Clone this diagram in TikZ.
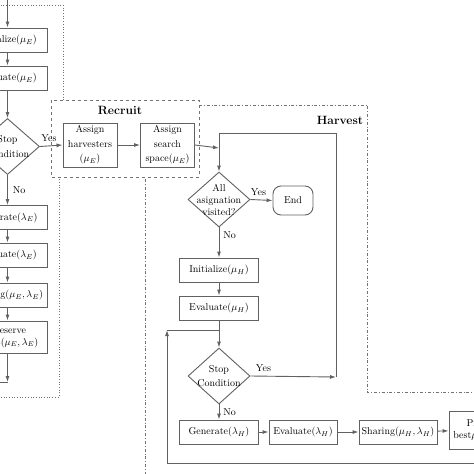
\documentclass[tikz,border=0pt]{standalone}
\usetikzlibrary{shapes.geometric,arrows.meta}
\begin{document}
\begin{tikzpicture}[x=1pt,y=-1pt,
  ln/.style={draw=black!62, line width=0.9pt},
  arr/.style={ln, -{Latex[length=6pt,width=4pt]}},
  box/.style={draw=black!62, line width=0.9pt, fill=white, rectangle, inner sep=1pt,
    minimum height=24pt, align=center, font=\fontsize{10}{12}\selectfont},
  rbox/.style={box, minimum width=54pt, minimum height=44pt, font=\fontsize{10}{14.5}\selectfont},
  dia/.style={draw=black!62, line width=0.9pt, fill=white, diamond, inner sep=0pt},
  lab/.style={font=\fontsize{10}{12}\selectfont, inner sep=0pt},
  stage/.style={font=\fontsize{12}{14}\selectfont\bfseries, inner sep=0pt},
  frame/.style={draw=black!55, line width=0.7pt}
]
\useasboundingbox (0,0) rectangle (474,474);
\clip (0,0) rectangle (474,474);

% stage outlines
\draw[frame, dotted] (-10,5) -- (63,5) -- (63,138) -- (59,138) -- (59,397) -- (-10,397);
\draw[frame, dash dot] (145,490) -- (145,105) -- (367,105) -- (367,392) -- (490,392);
\draw[frame, line width=0.8pt, dashed, fill=white] (51,100) rectangle (199,177);

\node[stage] (rec) at (120,110) {Recruit};
\node[stage] (har) at (340,120) {Harvest};

% Explore column
\node[box, minimum width=80pt] (initE) at (7.5,40) {Initialize($\mu_E$)};
\node[box, minimum width=80pt] (evalE) at (7.5,78) {Evaluate($\mu_E$)};
\node[dia, minimum width=64pt, minimum height=56pt,
  label={[lab, align=center, font=\fontsize{10}{14.5}\selectfont]center:Stop\\Condition}] (stopE) at (7.5,146.5) {};
\node[box, minimum width=80pt] (genE) at (7.5,217.5) {Generate($\lambda_E$)};
\node[box, minimum width=80pt] (evalLE) at (7.5,255) {Evaluate($\lambda_E$)};
\node[box, minimum width=80pt] (shareE) at (7.5,295) {Sharing($\mu_E,\lambda_E$)};
\node[box, minimum width=80pt, minimum height=32pt] (presE) at (7.5,337) {Preserve\\best$\mu(\mu_E,\lambda_E)$};

% Recruit
\node[rbox] (ah) at (90,145) {Assign\\harvesters\\($\mu_E$)};
\node[rbox] (ss) at (167.5,145) {Assign\\search\\space($\mu_E$)};

% Harvest
\node[dia, minimum width=62pt, minimum height=55pt,
  label={[lab, align=center, font=\fontsize{10}{12}\selectfont]center:All\\asignation\\visited?}] (allH) at (219,199.5) {};
\node[draw=black!62, line width=0.9pt, rounded corners=8pt, minimum width=40pt, minimum height=29pt,
  inner sep=1pt, font=\fontsize{10}{12}\selectfont] (endN) at (293,200.5) {End};
\node[box, minimum width=79pt] (initH) at (219,270) {Initialize($\mu_H$)};
\node[box, minimum width=79pt] (evalH) at (219,308) {Evaluate($\mu_H$)};
\node[dia, minimum width=62pt, minimum height=56pt,
  label={[lab, align=center, font=\fontsize{10}{14.5}\selectfont]center:Stop\\Condition}] (stopH) at (219,376) {};
\node[box, minimum width=79pt] (genH) at (219,432) {Generate($\lambda_H$)};
\node[box, minimum width=68pt] (evalLH) at (303,432) {Evaluate($\lambda_H$)};
\node[box, minimum width=78pt] (shareH) at (398,432) {Sharing($\mu_H,\lambda_H$)};
\node[box, minimum width=72pt, minimum height=38pt] (presH) at (485,430) {Preserve\\best$\mu(\mu_H,\lambda_H)$};

% coordinates
\coordinate (topE) at (7.5,-5);
\coordinate (eb) at (7.5,382);
\coordinate (el) at (-10,382);
\coordinate (j1) at (219,148);
\coordinate (tl) at (219,133);
\coordinate (tr) at (336,133);
\coordinate (jr) at (336,377);
\coordinate (lb) at (167,463);
\coordinate (lt) at (167,330);
\coordinate (lj) at (219,330);

% Explore connectors
\draw[arr] (topE) -- (initE);
\draw[arr] (initE) -- (evalE);
\draw[arr] (evalE) -- (stopE);
\draw[arr] (stopE.east) -- (ah.west) node[lab, pos=0, anchor=south west, xshift=1pt, yshift=4pt] {Yes};
\draw[arr] (stopE.south) -- (genE) node[lab, midway, anchor=west, xshift=5pt] {No};
\draw[arr] (genE) -- (evalLE);
\draw[arr] (evalLE) -- (shareE);
\draw[arr] (shareE) -- (presE);
\draw[arr] (presE.south) -- (eb);
\draw[ln] (eb) -- (el);

% Recruit connectors
\draw[arr] (ah) -- (ss);
\draw[arr] (ss.east) -- (j1);

% Harvest connectors
\draw[ln] (jr) -- (tr) -- (tl);
\draw[arr] (tl) -- (allH.north);
\draw[arr] (allH.east) -- (endN.west) node[lab, pos=0, anchor=south west, xshift=0pt, yshift=3pt] {Yes};
\draw[arr] (allH.south) -- (initH) node[lab, pos=0.27, anchor=west, xshift=4pt] {No};
\draw[arr] (initH) -- (evalH);
\draw[arr] (evalH) -- (stopH);
\draw[arr] (stopH.east) -- (jr) node[lab, pos=0, anchor=south west, xshift=5pt, yshift=4pt] {Yes};
\draw[arr] (stopH.south) -- (genH) node[lab, midway, anchor=west, xshift=4pt] {No};
\draw[arr] (genH) -- (evalLH);
\draw[arr] (evalLH) -- (shareH);
\draw[arr] (shareH) -- (presH);
\draw[arr] (presH.south) |- (lb) -- (lt);
\draw[ln] (lt) -- (lj);
\end{tikzpicture}
\end{document}
